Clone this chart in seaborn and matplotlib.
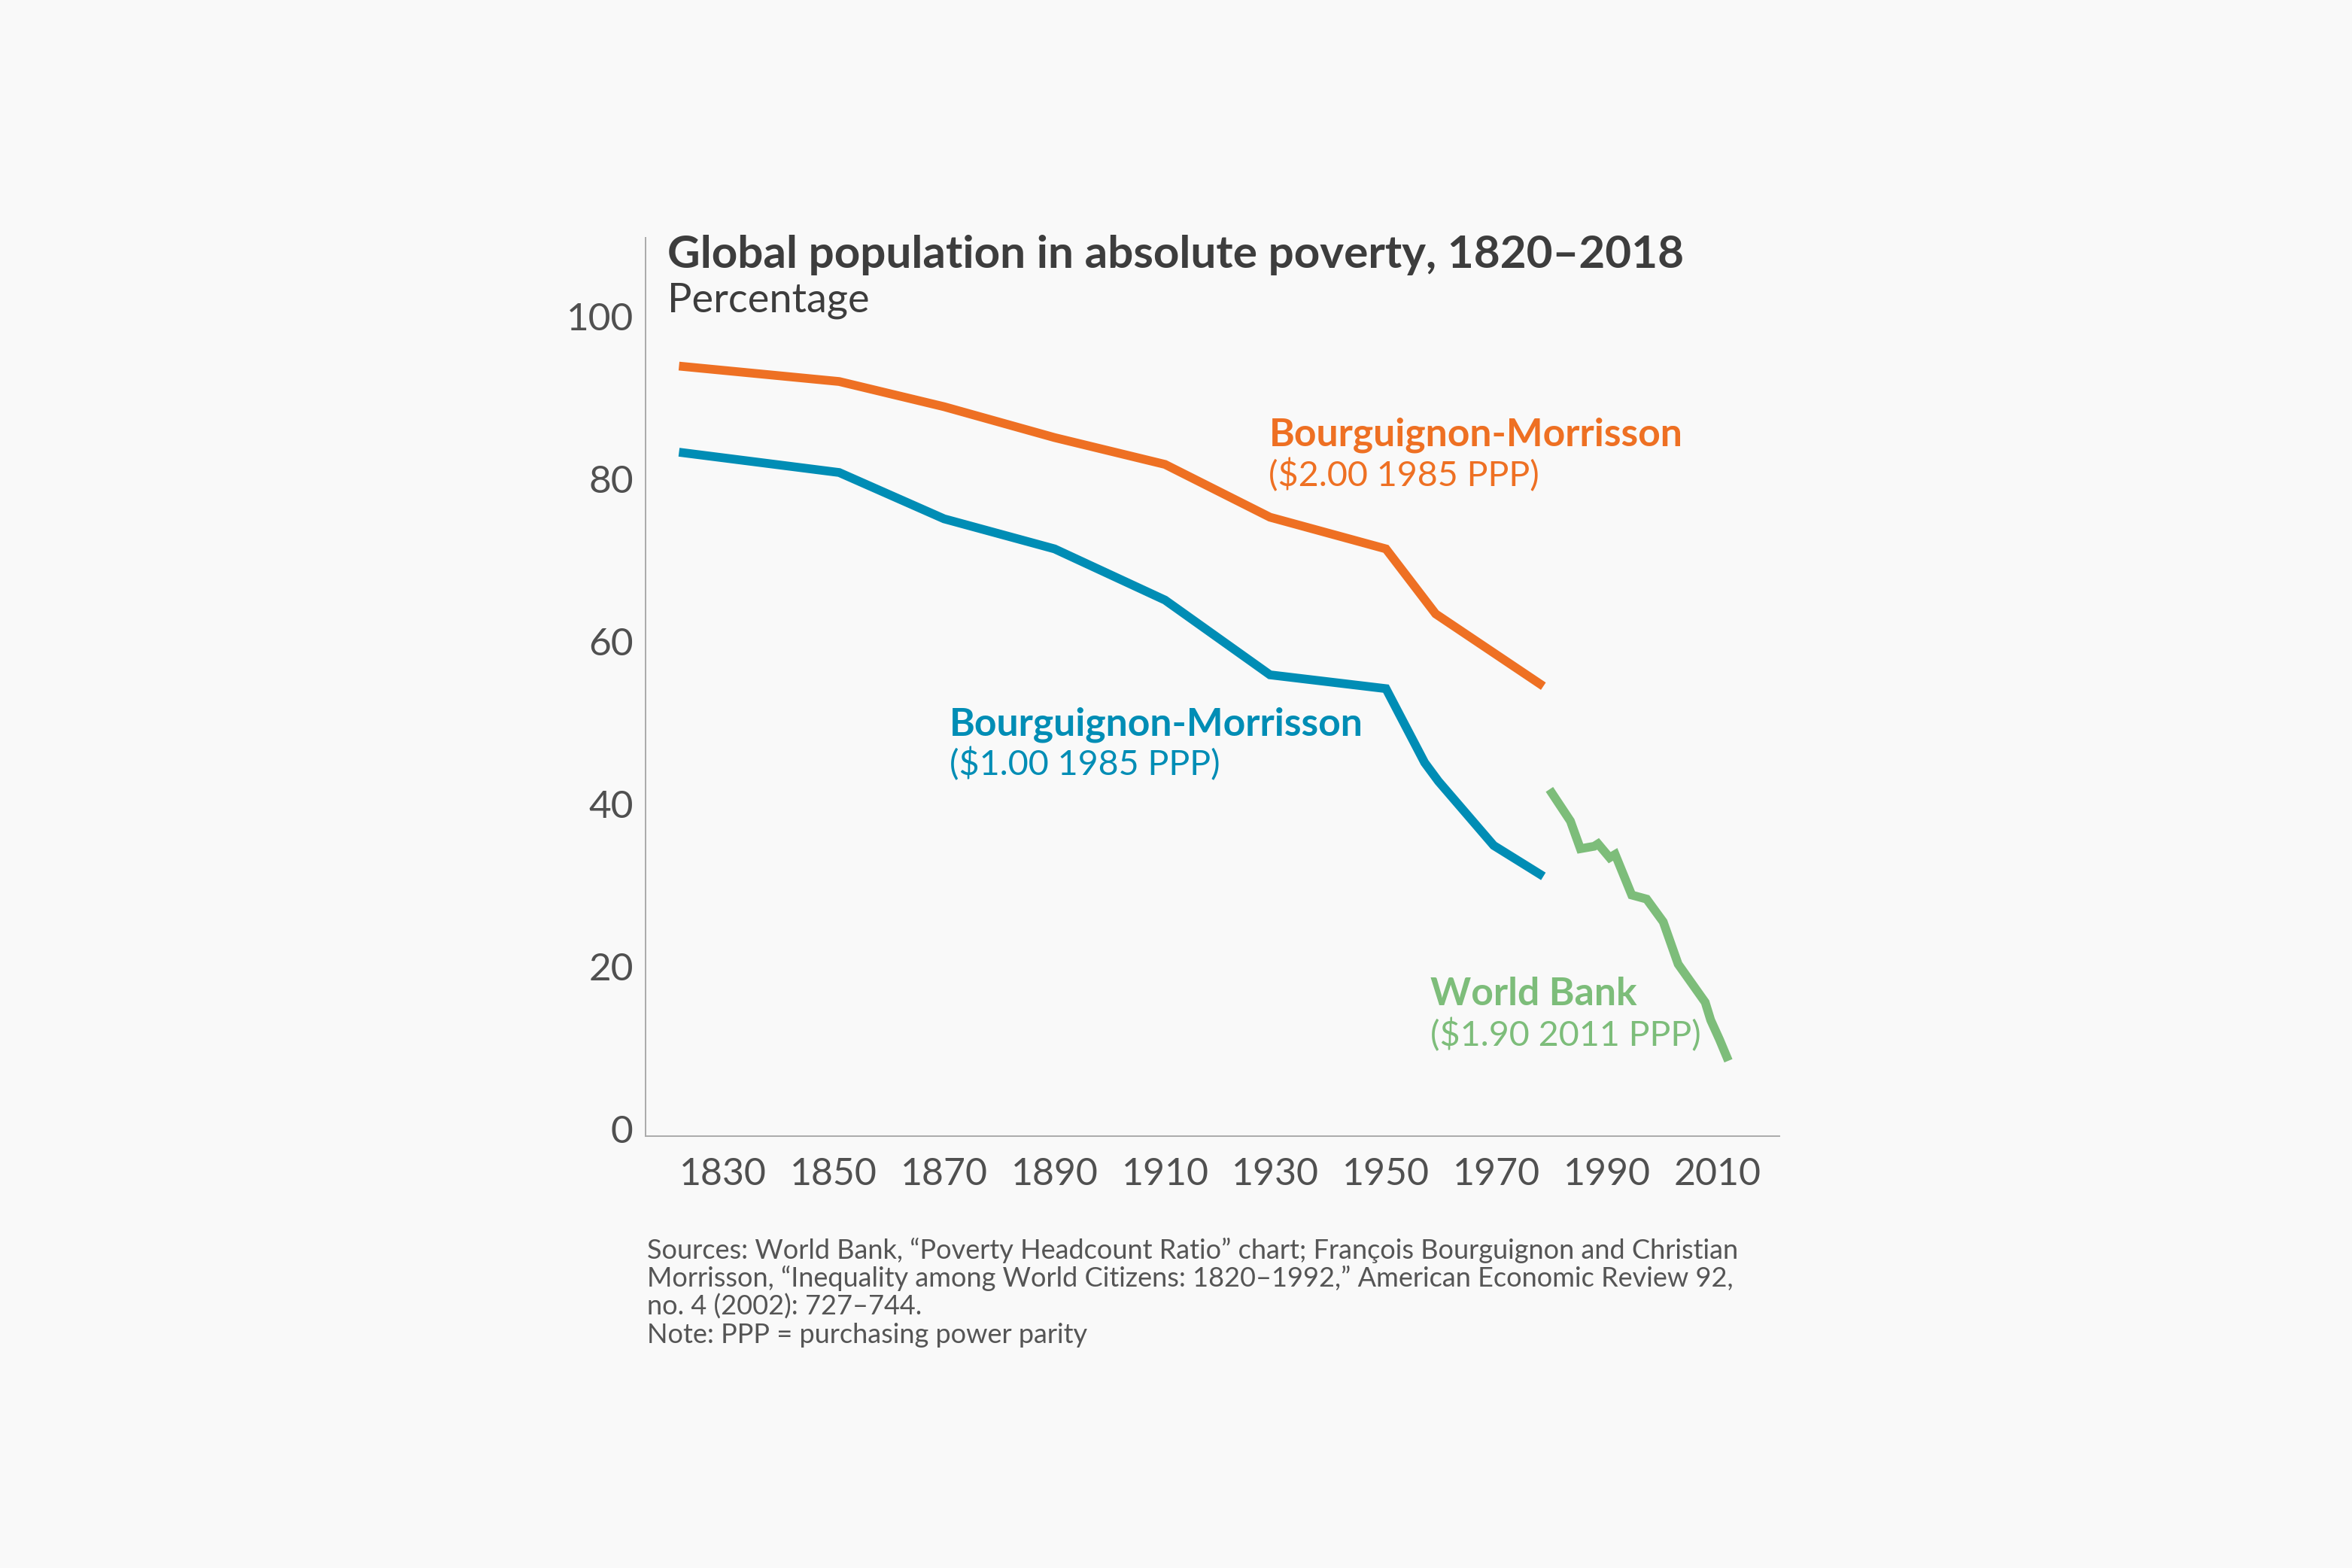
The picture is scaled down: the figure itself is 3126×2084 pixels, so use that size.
import numpy as np
import pandas as pd
import matplotlib
matplotlib.use("Agg")
import matplotlib.pyplot as plt
import seaborn as sns

# ------------------- Data -------------------
bm2_years = [1822, 1851, 1870, 1890, 1910, 1929, 1950, 1959, 1978.5]
bm2_values = [93.9, 92.0, 88.9, 85.1, 81.8, 75.3, 71.4, 63.4, 54.5]

bm1_years = [1822, 1851, 1870, 1890, 1910, 1929, 1950, 1957, 1959.5, 1969.5, 1978.5]
bm1_values = [83.3, 80.8, 75.1, 71.4, 65.1, 55.9, 54.2, 45.1, 42.8, 34.9, 31.1]

wb_years = [1979.6, 1983.4, 1985.2, 1987.7, 1988.4, 1990.5, 1991.5, 1994.5,
            1997.2, 2000.2, 2002.9, 2007.8, 2008.8, 2010.4, 2012.0]
wb_values = [41.8, 37.9, 34.5, 34.8, 35.1, 33.4, 33.8, 28.8,
             28.3, 25.5, 20.3, 15.6, 13.4, 11.0, 8.4]

series_names = ["BM $2.00", "BM $1.00", "World Bank"]
series_colors = ["#ee7023", "#008db5", "#7dbd7a"]

x_ticks = [1830, 1850, 1870, 1890, 1910, 1930, 1950, 1970, 1990, 2010]
y_ticks = [0, 20, 40, 60, 80, 100]

title = "Global population in absolute poverty, 1820\u20132018"
subtitle = "Percentage"
source_lines = [
    "Sources: World Bank, \u201cPoverty Headcount Ratio\u201d chart; Fran\u00e7ois Bourguignon and Christian",
    "Morrisson, \u201cInequality among World Citizens: 1820\u20131992,\u201d American Economic Review 92,",
    "no. 4 (2002): 727\u2013744.",
    "Note: PPP = purchasing power parity",
]

df = pd.concat([
    pd.DataFrame({"year": bm2_years, "value": bm2_values, "series": series_names[0]}),
    pd.DataFrame({"year": bm1_years, "value": bm1_values, "series": series_names[1]}),
    pd.DataFrame({"year": wb_years, "value": wb_values, "series": series_names[2]}),
], ignore_index=True)

# ------------------- Plot -------------------
sns.set_theme(style="white")
plt.rcParams["font.family"] = ["Lato", "DejaVu Sans"]
bg = "#f9f9f9"
text_dark = "#3d3d3d"

fig = plt.figure(figsize=(15.63, 10.42), dpi=200, facecolor=bg)
ax = fig.add_axes([0.2746, 0.2754, 0.4821, 0.5730])
ax.set_facecolor(bg)

for name, color in zip(series_names, series_colors):
    sub = df[df["series"] == name]
    sns.lineplot(data=sub, x="year", y="value", ax=ax, color=color, lw=4.2,
                 sort=False, estimator=None, solid_capstyle="butt",
                 solid_joinstyle="miter", legend=False)

ax.set_xlim(1816.0, 2021.3)
ax.set_ylim(-0.88, 109.7)
ax.set_xticks(x_ticks)
ax.set_yticks(y_ticks)
ax.set_xlabel("")
ax.set_ylabel("")
ax.tick_params(axis="both", length=0, colors="#505050")
ax.tick_params(axis="x", pad=10, labelsize=18)
ax.tick_params(axis="y", pad=6, labelsize=18.5)

for side in ["top", "right"]:
    ax.spines[side].set_visible(False)
for side in ["left", "bottom"]:
    ax.spines[side].set_color("#aaaaaa")
    ax.spines[side].set_linewidth(0.7)

# series labels
bold_size = 18.6
reg_size = 16.8
ax.text(1928.8, 84.1, "Bourguignon-Morrisson", color=series_colors[0],
        fontsize=bold_size, fontweight="bold", va="baseline")
ax.text(1928.8, 79.1, "($2.00 1985 PPP)", color=series_colors[0],
        fontsize=reg_size, va="baseline")
ax.text(1871.0, 48.4, "Bourguignon-Morrisson", color=series_colors[1],
        fontsize=bold_size, fontweight="bold", va="baseline")
ax.text(1871.0, 43.6, "($1.00 1985 PPP)", color=series_colors[1],
        fontsize=reg_size, va="baseline")
ax.text(1958.0, 15.2, "World Bank", color=series_colors[2],
        fontsize=bold_size, fontweight="bold", va="baseline")
ax.text(1958.0, 10.2, "($1.90 2011 PPP)", color=series_colors[2],
        fontsize=reg_size, va="baseline")

# title block
fig.text(0.2837, 0.8293, title, fontsize=21.7, fontweight="bold",
         color=text_dark, va="baseline")
fig.text(0.2837, 0.8009, subtitle, fontsize=19.5, color=text_dark, va="baseline")

# sources
base = 2084 - 1672.7
for i, line in enumerate(source_lines):
    fig.text(0.275, (base - i * 37.5) / 2084, line, fontsize=13.0,
             color="#555555", va="baseline")

fig.savefig("out.png", dpi=200, facecolor=bg)
